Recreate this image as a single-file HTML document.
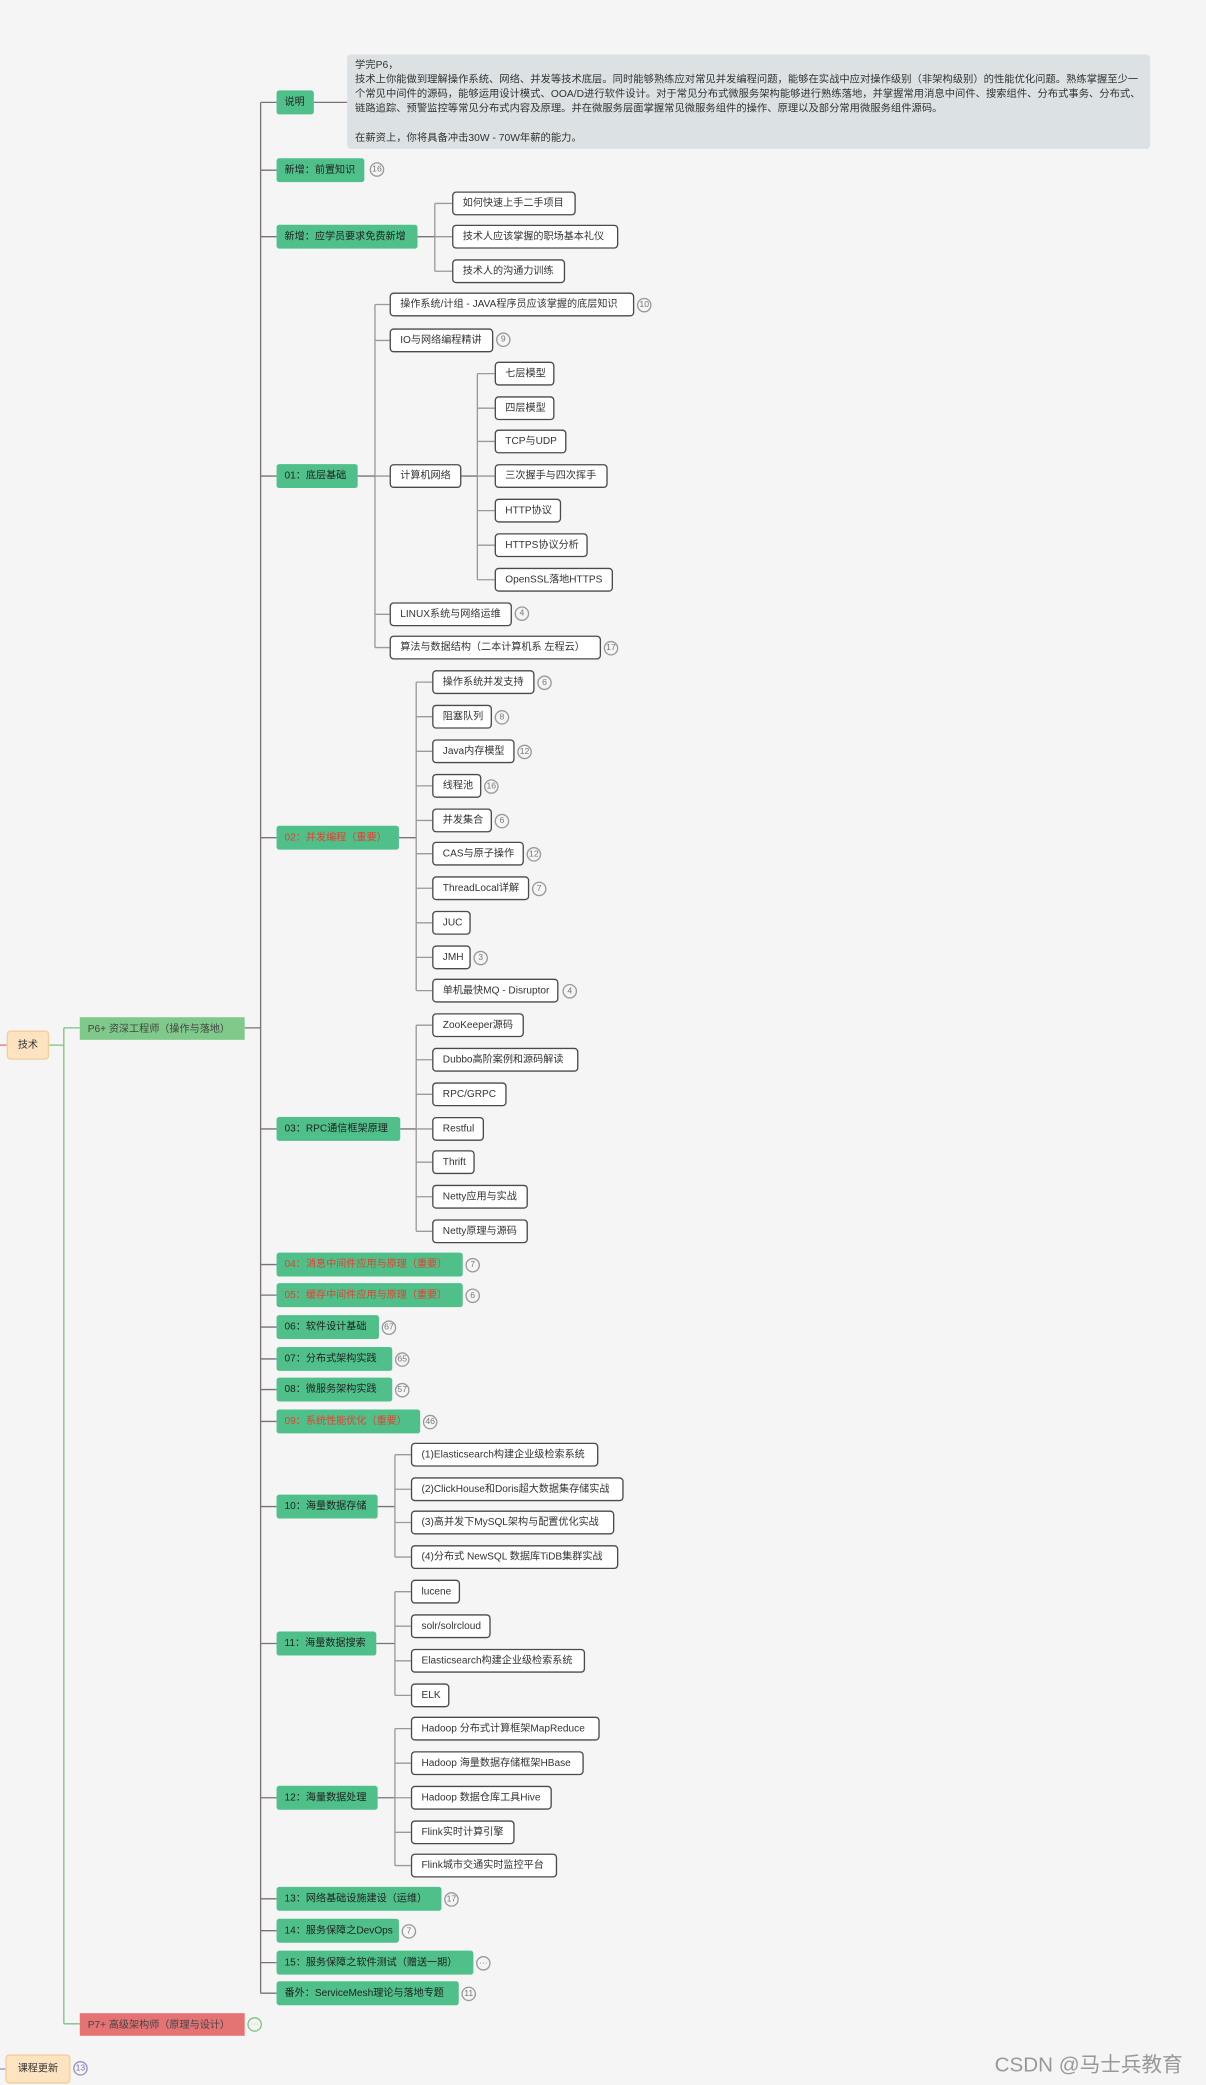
<!DOCTYPE html>
<html><head><meta charset="utf-8"><style>
html,body{margin:0;padding:0;background:#f5f5f5;}
body{width:1206px;height:2085px;overflow:hidden;position:relative;}
#c{position:absolute;left:0;top:0;width:907px;height:1568px;transform:scale(1.3297);transform-origin:0 0;font-family:"Liberation Sans","Noto Sans CJK SC",sans-serif;font-size:7.6px;color:#333;}
#c div{position:absolute;white-space:nowrap;box-sizing:border-box;}
.g{background:#4fc08a;border-radius:2px;height:18px;line-height:18px;padding-left:6px;color:#222;}
.r{color:#f03a2e;}
.w{background:#fff;border:1.2px solid #4a4a4a;border-radius:3px;height:18px;line-height:15.5px;padding-left:7px;color:#333;}
.b{width:11px;height:11px;border:1px solid #999;border-radius:50%;font-size:6.5px;line-height:9px;text-align:center;color:#777;background:#f5f5f5;}
svg{position:absolute;left:0;top:0;}
</style></head><body><div id="c">
<svg width="907" height="1568" fill="none" stroke-width="1">
<path d="M0 786H5" stroke="#e57373"/>
<path d="M37 786H48M48 773V1522M48 773H60M48 1522H60" stroke="#7cc47f"/>
<path d="M0 1556H4" stroke="#9a8fc7"/>
<g stroke="#7a7474">
<path d="M184 773H196M196 77V1499"/>
<path d="M196 77H208M196 128H208M196 178H208M196 358H208M196 630H208M196 849H208M196 951H208M196 974H208M196 998H208M196 1022H208M196 1045H208M196 1069H208M196 1133H208M196 1236H208M196 1352H208M196 1428H208M196 1452H208M196 1476H208M196 1499H208"/>
<path d="M236 77H261"/>
<path d="M314 178H327M269 358H282M347 358H359M300 630H313M301 849H313M284 1133H297M283 1236H297M284 1352H297"/>
</g>
<g stroke="#9a9a9a">
<path d="M327 153V204M327 153H340M327 178H340M327 204H340"/>
<path d="M282 229V487M282 229H293M282 256H293M282 358H293M282 462H293M282 487H293"/>
<path d="M359 281V436M359 281H372M359 307H372M359 332H372M359 358H372M359 384H372M359 410H372M359 436H372"/>
<path d="M313 513V745M313 513H325M313 539H325M313 565H325M313 591H325M313 617H325M313 642H325M313 668H325M313 694H325M313 720H325M313 745H325"/>
<path d="M313 771V926M313 771H325M313 797H325M313 823H325M313 849H325M313 874H325M313 900H325M313 926H325"/>
<path d="M297 1094V1171M297 1094H309M297 1120H309M297 1145H309M297 1171H309"/>
<path d="M297 1197V1275M297 1197H309M297 1223H309M297 1249H309M297 1275H309"/>
<path d="M297 1300V1403M297 1300H309M297 1326H309M297 1352H309M297 1378H309M297 1403H309"/>
</g>
</svg>

<div style="left:5px;top:775px;width:32px;height:22px;background:#fde3c0;border:1px solid #f2cf9c;border-radius:3px;line-height:20px;text-align:center;">技术</div>
<div style="left:4px;top:1545px;width:49px;height:22px;background:#fde3c0;border:1px solid #f2cf9c;border-radius:3px;line-height:20px;text-align:center;">课程更新</div>
<div class="b" style="left:55px;top:1550px;border-color:#9a8fc7;color:#7a6fb7">13</div>
<div style="left:60px;top:765px;width:124px;height:17px;background:#7fc98a;line-height:17px;padding-left:6px;color:#444;">P6+ 资深工程师（操作与落地）</div>
<div style="left:60px;top:1514px;width:124px;height:17px;background:#e57373;line-height:17px;padding-left:6px;color:#444;">P7+ 高级架构师（原理与设计）</div>
<div class="b" style="left:186px;top:1517px;border-color:#7cc47f;color:#7cc47f">···</div>

<div style="left:261px;top:41px;width:604px;height:71px;background:#dce2e3;border-radius:3px;padding:2px 6px;font-size:7.75px;line-height:11px;white-space:normal;color:#333;">学完P6，<br>技术上你能做到理解操作系统、网络、并发等技术底层。同时能够熟练应对常见并发编程问题，能够在实战中应对操作级别（非架构级别）的性能优化问题。熟练掌握至少一个常见中间件的源码，能够运用设计模式、OOA/D进行软件设计。对于常见分布式微服务架构能够进行熟练落地，并掌握常用消息中间件、搜索组件、分布式事务、分布式、链路追踪、预警监控等常见分布式内容及原理。并在微服务层面掌握常见微服务组件的操作、原理以及部分常用微服务组件源码。<br><br>在薪资上，你将具备冲击30W - 70W年薪的能力。</div>

<div class="g" style="left:208px;top:68px;width:28px;">说明</div>
<div class="g" style="left:208px;top:119px;width:66px;">新增：前置知识</div><div class="b" style="left:278px;top:122px">16</div>
<div class="g" style="left:208px;top:169px;width:106px;">新增：应学员要求免费新增</div>
<div class="w" style="left:340px;top:144px;width:93px;">如何快速上手二手项目</div>
<div class="w" style="left:340px;top:169px;width:125px;">技术人应该掌握的职场基本礼仪</div>
<div class="w" style="left:340px;top:195px;width:85px;">技术人的沟通力训练</div>

<div class="g" style="left:208px;top:349px;width:61px;">01：底层基础</div>
<div class="w" style="left:293px;top:220px;width:184px;">操作系统/计组 - JAVA程序员应该掌握的底层知识</div><div class="b" style="left:479px;top:224px">10</div>
<div class="w" style="left:293px;top:247px;width:78px;">IO与网络编程精讲</div><div class="b" style="left:373px;top:250px">9</div>
<div class="w" style="left:293px;top:349px;width:54px;">计算机网络</div>
<div class="w" style="left:293px;top:453px;width:92px;">LINUX系统与网络运维</div><div class="b" style="left:387px;top:456px">4</div>
<div class="w" style="left:293px;top:478px;width:159px;">算法与数据结构（二本计算机系 左程云）</div><div class="b" style="left:454px;top:482px">17</div>
<div class="w" style="left:372px;top:272px;width:45px;">七层模型</div>
<div class="w" style="left:372px;top:298px;width:45px;">四层模型</div>
<div class="w" style="left:372px;top:323px;width:54px;">TCP与UDP</div>
<div class="w" style="left:372px;top:349px;width:85px;">三次握手与四次挥手</div>
<div class="w" style="left:372px;top:375px;width:50px;">HTTP协议</div>
<div class="w" style="left:372px;top:401px;width:70px;">HTTPS协议分析</div>
<div class="w" style="left:372px;top:427px;width:89px;">OpenSSL落地HTTPS</div>

<div class="g r" style="left:208px;top:621px;width:92px;">02：并发编程（重要）</div>
<div class="w" style="left:325px;top:504px;width:77px;">操作系统并发支持</div><div class="b" style="left:404px;top:508px">6</div>
<div class="w" style="left:325px;top:530px;width:45px;">阻塞队列</div><div class="b" style="left:372px;top:534px">8</div>
<div class="w" style="left:325px;top:556px;width:62px;">Java内存模型</div><div class="b" style="left:389px;top:560px">12</div>
<div class="w" style="left:325px;top:582px;width:37px;">线程池</div><div class="b" style="left:364px;top:586px">16</div>
<div class="w" style="left:325px;top:608px;width:45px;">并发集合</div><div class="b" style="left:372px;top:612px">6</div>
<div class="w" style="left:325px;top:633px;width:69px;">CAS与原子操作</div><div class="b" style="left:396px;top:637px">12</div>
<div class="w" style="left:325px;top:659px;width:73px;">ThreadLocal详解</div><div class="b" style="left:400px;top:663px">7</div>
<div class="w" style="left:325px;top:685px;width:29px;">JUC</div>
<div class="w" style="left:325px;top:711px;width:29px;">JMH</div><div class="b" style="left:356px;top:715px">3</div>
<div class="w" style="left:325px;top:736px;width:95px;">单机最快MQ - Disruptor</div><div class="b" style="left:423px;top:740px">4</div>

<div class="g" style="left:208px;top:840px;width:93px;">03：RPC通信框架原理</div>
<div class="w" style="left:325px;top:762px;width:69px;">ZooKeeper源码</div>
<div class="w" style="left:325px;top:788px;width:110px;">Dubbo高阶案例和源码解读</div>
<div class="w" style="left:325px;top:814px;width:56px;">RPC/GRPC</div>
<div class="w" style="left:325px;top:840px;width:39px;">Restful</div>
<div class="w" style="left:325px;top:865px;width:32px;">Thrift</div>
<div class="w" style="left:325px;top:891px;width:72px;">Netty应用与实战</div>
<div class="w" style="left:325px;top:917px;width:72px;">Netty原理与源码</div>

<div class="g r" style="left:208px;top:942px;width:140px;">04：消息中间件应用与原理（重要）</div><div class="b" style="left:350px;top:946px">7</div>
<div class="g r" style="left:208px;top:965px;width:140px;">05：缓存中间件应用与原理（重要）</div><div class="b" style="left:350px;top:969px">6</div>
<div class="g" style="left:208px;top:989px;width:77px;">06：软件设计基础</div><div class="b" style="left:287px;top:993px">67</div>
<div class="g" style="left:208px;top:1013px;width:87px;">07：分布式架构实践</div><div class="b" style="left:297px;top:1017px">65</div>
<div class="g" style="left:208px;top:1036px;width:87px;">08：微服务架构实践</div><div class="b" style="left:297px;top:1040px">57</div>
<div class="g r" style="left:208px;top:1060px;width:108px;">09：系统性能优化（重要）</div><div class="b" style="left:318px;top:1064px">46</div>

<div class="g" style="left:208px;top:1124px;width:76px;">10：海量数据存储</div>
<div class="w" style="left:309px;top:1085px;width:141px;">(1)Elasticsearch构建企业级检索系统</div>
<div class="w" style="left:309px;top:1111px;width:160px;">(2)ClickHouse和Doris超大数据集存储实战</div>
<div class="w" style="left:309px;top:1136px;width:153px;">(3)高并发下MySQL架构与配置优化实战</div>
<div class="w" style="left:309px;top:1162px;width:156px;">(4)分布式 NewSQL 数据库TiDB集群实战</div>

<div class="g" style="left:208px;top:1227px;width:75px;">11：海量数据搜索</div>
<div class="w" style="left:309px;top:1188px;width:37px;">lucene</div>
<div class="w" style="left:309px;top:1214px;width:60px;">solr/solrcloud</div>
<div class="w" style="left:309px;top:1240px;width:131px;">Elasticsearch构建企业级检索系统</div>
<div class="w" style="left:309px;top:1266px;width:29px;">ELK</div>

<div class="g" style="left:208px;top:1343px;width:76px;">12：海量数据处理</div>
<div class="w" style="left:309px;top:1291px;width:142px;">Hadoop 分布式计算框架MapReduce</div>
<div class="w" style="left:309px;top:1317px;width:130px;">Hadoop 海量数据存储框架HBase</div>
<div class="w" style="left:309px;top:1343px;width:106px;">Hadoop 数据仓库工具Hive</div>
<div class="w" style="left:309px;top:1369px;width:78px;">Flink实时计算引擎</div>
<div class="w" style="left:309px;top:1394px;width:110px;">Flink城市交通实时监控平台</div>

<div class="g" style="left:208px;top:1419px;width:124px;">13：网络基础设施建设（运维）</div><div class="b" style="left:334px;top:1423px">17</div>
<div class="g" style="left:208px;top:1443px;width:92px;">14：服务保障之DevOps</div><div class="b" style="left:302px;top:1447px">7</div>
<div class="g" style="left:208px;top:1467px;width:148px;">15：服务保障之软件测试（赠送一期）</div><div class="b" style="left:358px;top:1471px">···</div>
<div class="g" style="left:208px;top:1490px;width:137px;">番外：ServiceMesh理论与落地专题</div><div class="b" style="left:347px;top:1494px">11</div>

<div style="left:748px;top:1541px;font-size:15.5px;color:#999;">CSDN @马士兵教育</div>
</div></body></html>
